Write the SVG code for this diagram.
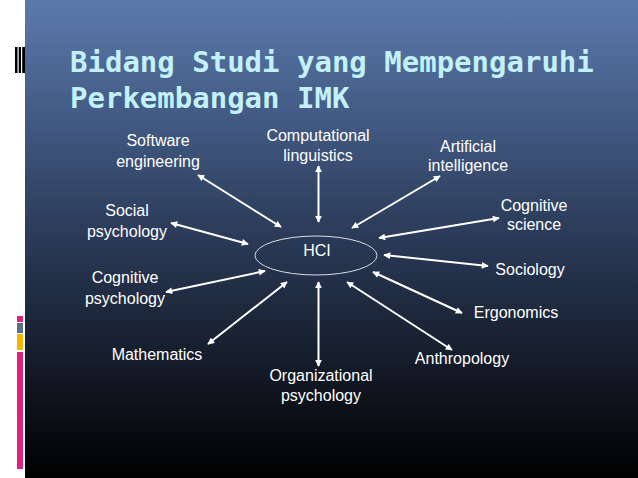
<svg xmlns="http://www.w3.org/2000/svg" width="638" height="478" viewBox="0 0 638 478">
<defs>
<linearGradient id="bg" x1="0" y1="0" x2="0" y2="1">
<stop offset="0" stop-color="#5b7aac"/>
<stop offset="0.27" stop-color="#40577f"/>
<stop offset="0.52" stop-color="#283753"/>
<stop offset="0.8" stop-color="#111722"/>
<stop offset="1" stop-color="#000000"/>
</linearGradient>
<marker id="ah" viewBox="0 0 10 10" refX="9" refY="5" markerWidth="4" markerHeight="3.4" orient="auto-start-reverse" markerUnits="strokeWidth">
<path d="M0,0 L10,5 L0,10 z" fill="#ffffff"/>
</marker>
<style>
.lbl{font-family:"Liberation Sans",Arial,sans-serif;font-size:16px;fill:#ffffff;text-anchor:middle}
.title{font-family:"DejaVu Sans Mono","Liberation Mono",monospace;font-size:29px;font-weight:bold;fill:#c3f1f9}
.con{stroke:#ffffff;stroke-width:2;fill:none;marker-start:url(#ah);marker-end:url(#ah)}
</style>
</defs>
<rect x="0" y="0" width="638" height="478" fill="#ffffff"/>
<rect x="25" y="0" width="613" height="478" fill="url(#bg)"/>
<g id="decor">
<rect x="15" y="47" width="10" height="26" fill="#000"/>
<rect x="17.5" y="47" width="1.2" height="26" fill="#fff"/>
<rect x="21" y="47" width="1.2" height="26" fill="#fff"/>
<rect x="17" y="316" width="6" height="6" fill="#e0207f"/>
<rect x="17" y="323" width="6" height="10" fill="#5d6e87"/>
<rect x="17" y="334" width="6" height="16" fill="#f7b500"/>
<rect x="17" y="352" width="6" height="117" fill="#e0207f"/>
</g>
<g id="title">
<text class="title" x="70" y="72">Bidang Studi yang Mempengaruhi</text>
<text class="title" x="70" y="108">Perkembangan IMK</text>
</g>
<g id="connectors">
<line class="con" x1="198" y1="175" x2="281" y2="227"/>
<line class="con" x1="318.5" y1="166" x2="318.5" y2="222"/>
<line class="con" x1="171" y1="223" x2="248" y2="244"/>
<line class="con" x1="440" y1="176" x2="352" y2="228"/>
<line class="con" x1="499" y1="218" x2="379" y2="238"/>
<line class="con" x1="384" y1="255" x2="488" y2="266"/>
<line class="con" x1="373" y1="272" x2="462" y2="313"/>
<line class="con" x1="347" y1="282" x2="452" y2="350"/>
<line class="con" x1="318.5" y1="282" x2="318.5" y2="366"/>
<line class="con" x1="287" y1="282" x2="208" y2="344"/>
<line class="con" x1="265" y1="271" x2="166" y2="292"/>
</g>
<g id="hci">
<ellipse cx="316" cy="255.5" rx="61" ry="19.5" fill="none" stroke="#d9dde6" stroke-width="1"/>
<text class="lbl" x="317" y="256">HCI</text>
</g>
<g id="software"><text class="lbl" x="158" y="146">Software</text><text class="lbl" x="158" y="167">engineering</text></g>
<g id="computational"><text class="lbl" x="318" y="141">Computational</text><text class="lbl" x="318" y="161">linguistics</text></g>
<g id="artificial"><text class="lbl" x="468" y="152">Artificial</text><text class="lbl" x="468" y="171">intelligence</text></g>
<g id="social"><text class="lbl" x="127" y="216">Social</text><text class="lbl" x="127" y="237">psychology</text></g>
<g id="cogsci"><text class="lbl" x="534" y="211">Cognitive</text><text class="lbl" x="534" y="230">science</text></g>
<g id="sociology"><text class="lbl" x="530" y="275">Sociology</text></g>
<g id="cogpsy"><text class="lbl" x="125" y="283">Cognitive</text><text class="lbl" x="125" y="304">psychology</text></g>
<g id="ergonomics"><text class="lbl" x="516" y="318">Ergonomics</text></g>
<g id="mathematics"><text class="lbl" x="157" y="360">Mathematics</text></g>
<g id="anthropology"><text class="lbl" x="462" y="364">Anthropology</text></g>
<g id="organizational"><text class="lbl" x="321" y="381">Organizational</text><text class="lbl" x="321" y="401">psychology</text></g>
</svg>
